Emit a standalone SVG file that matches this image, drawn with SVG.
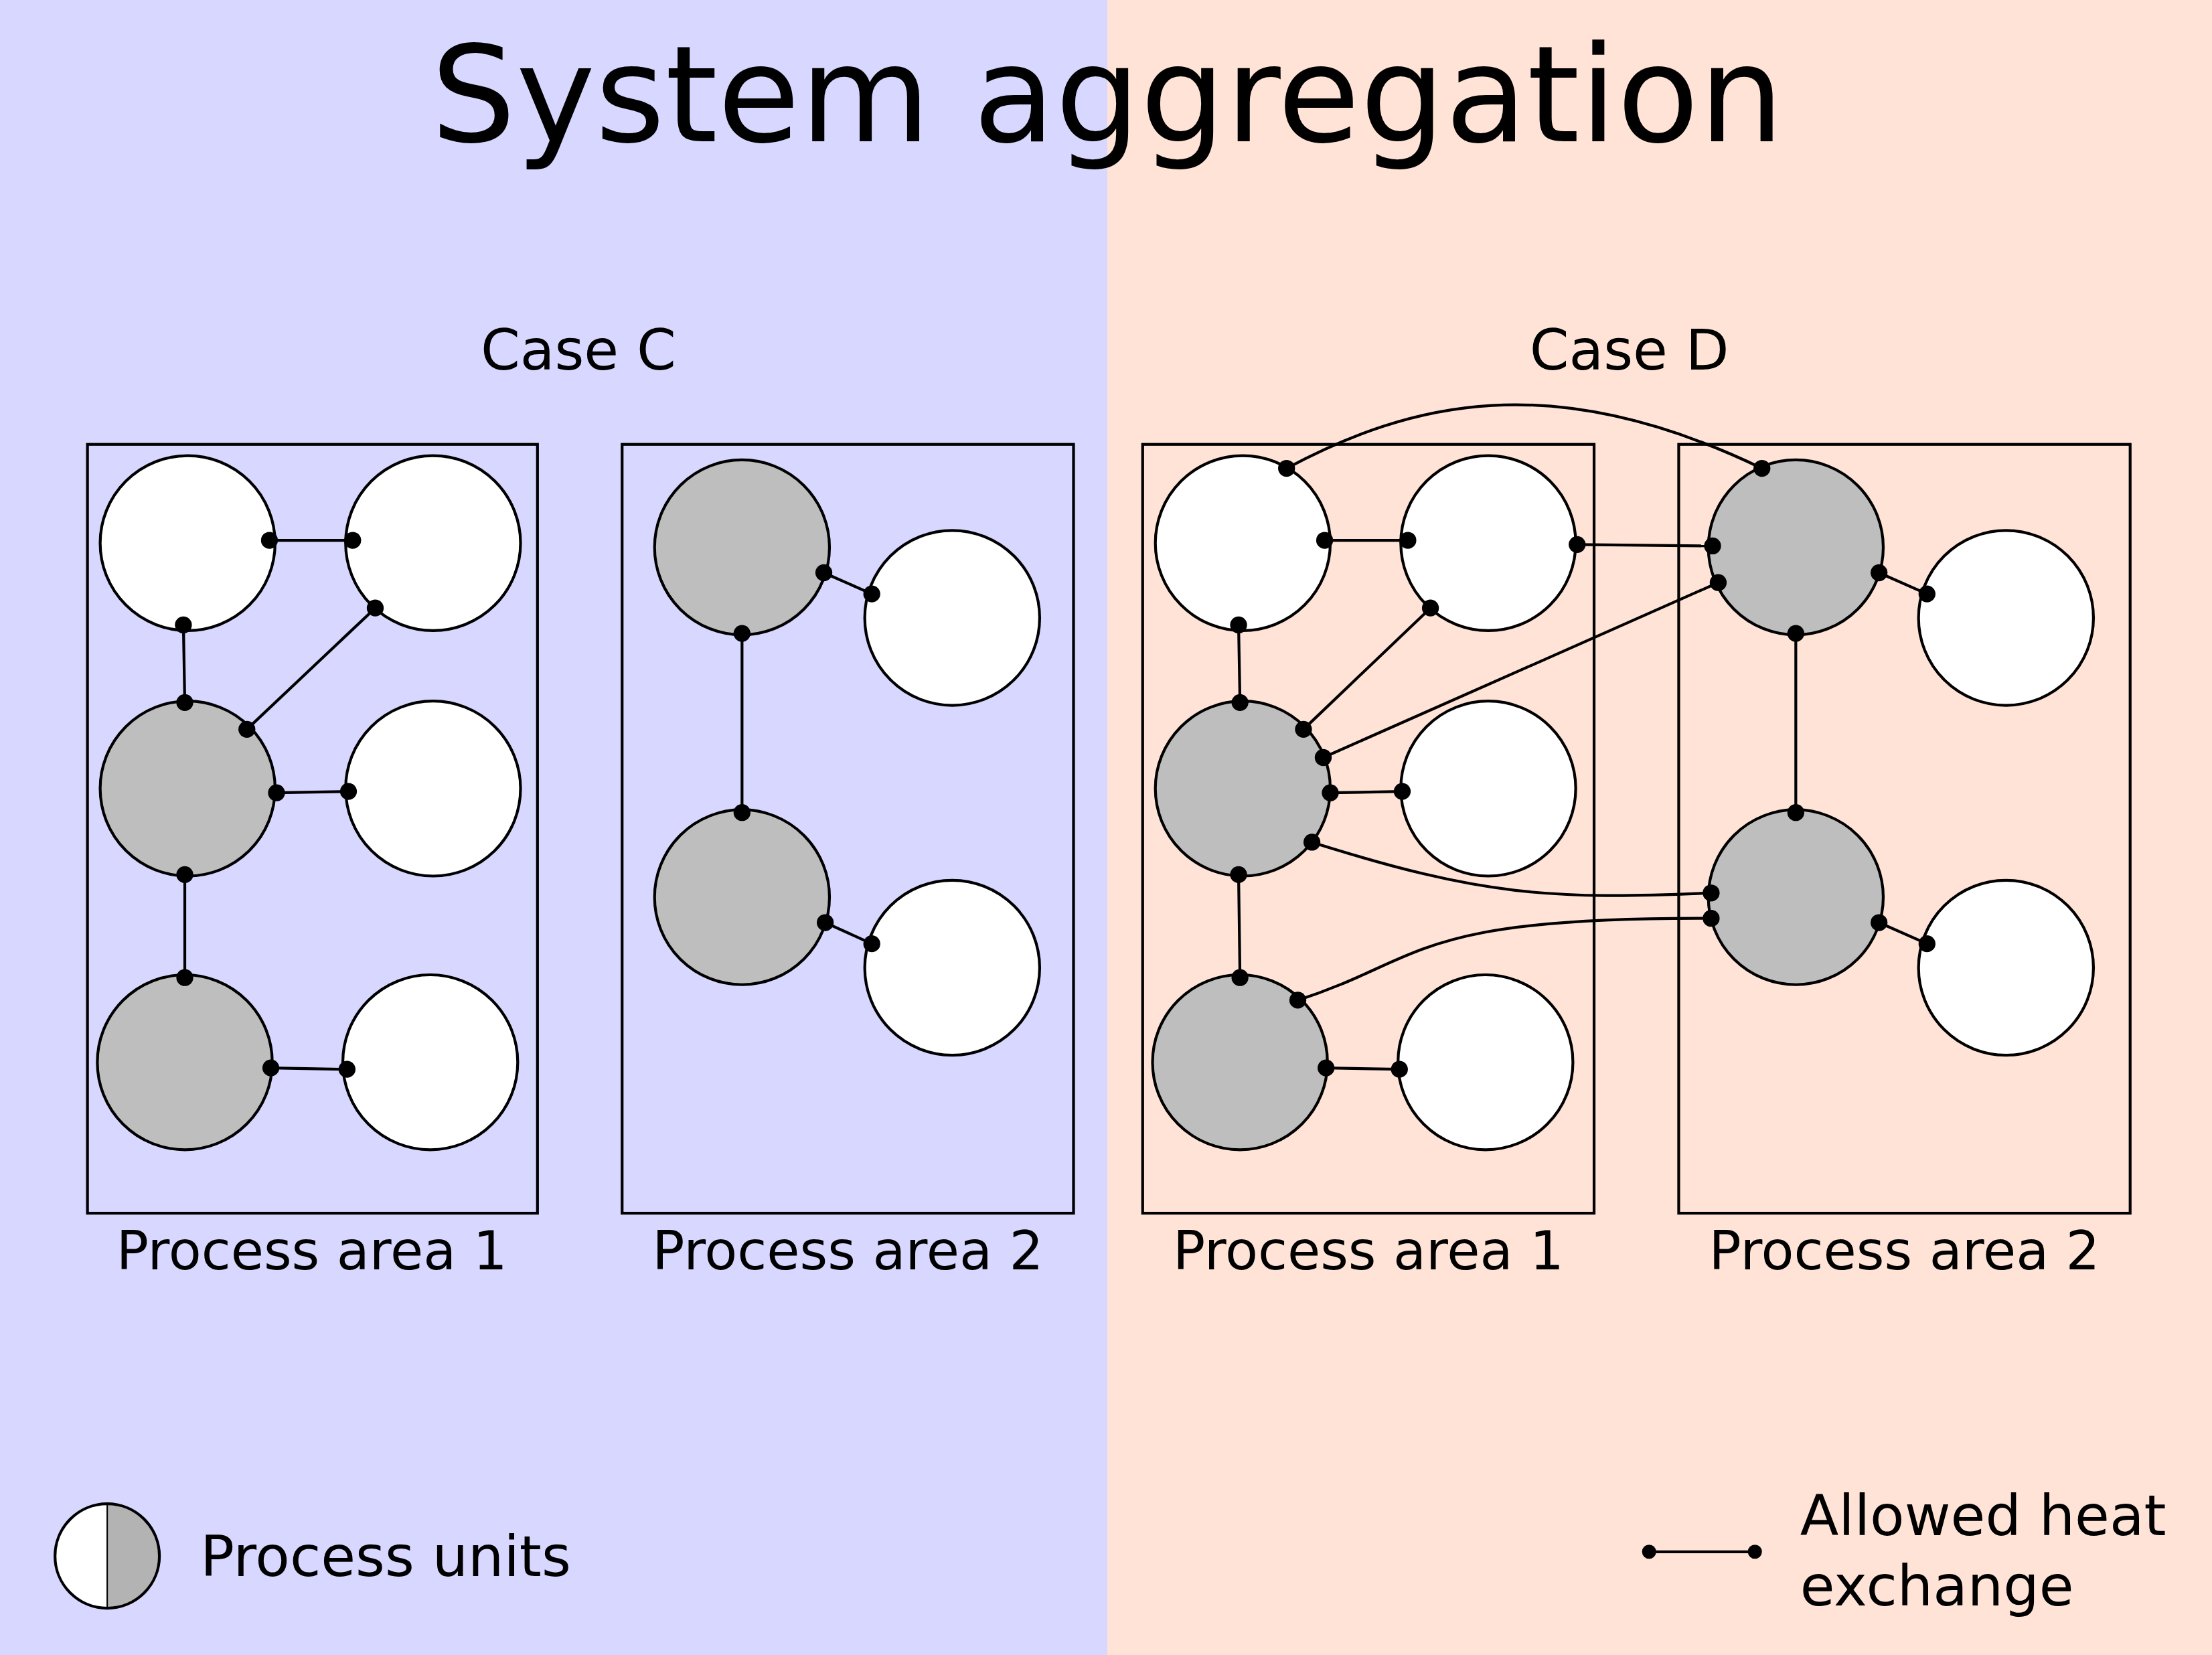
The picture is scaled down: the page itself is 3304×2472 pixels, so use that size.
<svg xmlns="http://www.w3.org/2000/svg" width="3304" height="2472" viewBox="0 0 3304 2472">
<style>
text{font-family:"DejaVu Sans",Verdana,sans-serif;fill:#000}
.lbl{font-size:38px;text-anchor:middle}
.box{fill:none;stroke:#000;stroke-width:2}
.w{fill:#fff;stroke:#000;stroke-width:2}
.g{fill:#bebebe;stroke:#000;stroke-width:2}
.c line,.c path{stroke:#000;stroke-width:2;fill:none}
.d{fill:#000}
</style>
<g transform="scale(2.1071)">
<rect x="0" y="0" width="785" height="1174" fill="#d7d7ff"/>
<rect x="785" y="0" width="784" height="1174" fill="#ffe3d7"/>
<text x="785" y="100" font-size="95" text-anchor="middle">System aggregation</text>
<text x="410" y="262" font-size="40" text-anchor="middle">Case C</text>
<text x="1155" y="262" font-size="40" text-anchor="middle">Case D</text>
<g id="areaC1"><rect class="box" x="62" y="315" width="319" height="545"/><text class="lbl" x="221" y="900">Process area 1</text></g>
<g id="areaC2"><rect class="box" x="441" y="315" width="320" height="545"/><text class="lbl" x="601" y="900">Process area 2</text></g>
<g id="areaD1"><rect class="box" x="810" y="315" width="320" height="545"/><text class="lbl" x="970" y="900">Process area 1</text></g>
<g id="areaD2"><rect class="box" x="1190" y="315" width="320" height="545"/><text class="lbl" x="1350" y="900">Process area 2</text></g>
<g id="units">
<circle class="w" cx="133" cy="385" r="62"/><circle class="w" cx="307" cy="385" r="62"/><circle class="g" cx="133" cy="559" r="62"/><circle class="w" cx="307" cy="559" r="62"/><circle class="g" cx="131" cy="753" r="62"/><circle class="w" cx="305" cy="753" r="62"/>
<circle class="g" cx="526" cy="388" r="62"/><circle class="w" cx="675" cy="438" r="62"/><circle class="g" cx="526" cy="636" r="62"/><circle class="w" cx="675" cy="686" r="62"/>
<circle class="w" cx="881" cy="385" r="62"/><circle class="w" cx="1055" cy="385" r="62"/><circle class="g" cx="881" cy="559" r="62"/><circle class="w" cx="1055" cy="559" r="62"/><circle class="g" cx="879" cy="753" r="62"/><circle class="w" cx="1053" cy="753" r="62"/>
<circle class="g" cx="1273" cy="388" r="62"/><circle class="w" cx="1422" cy="438" r="62"/><circle class="g" cx="1273" cy="636" r="62"/><circle class="w" cx="1422" cy="686" r="62"/>
</g>
<g id="connectors" class="c">
<line x1="191" y1="383" x2="250" y2="383"/><line x1="130" y1="443" x2="131" y2="498"/><line x1="266" y1="431" x2="175" y2="517"/><line x1="196" y1="562" x2="247" y2="561"/><line x1="131" y1="620" x2="131" y2="693"/><line x1="192" y1="757" x2="246" y2="758"/>
<line x1="584" y1="406" x2="618" y2="421"/><line x1="526" y1="449" x2="526" y2="576"/><line x1="585" y1="654" x2="618" y2="669"/>
<line x1="939" y1="383" x2="998" y2="383"/><line x1="878" y1="443" x2="879" y2="498"/><line x1="1014" y1="431" x2="924" y2="517"/><line x1="943" y1="562" x2="994" y2="561"/><line x1="878" y1="620" x2="879" y2="693"/><line x1="940" y1="757" x2="992" y2="758"/>
<line x1="1332" y1="406" x2="1366" y2="421"/><line x1="1273" y1="449" x2="1273" y2="576"/><line x1="1332" y1="654" x2="1366" y2="669"/>
<path d="M912 332 C1000 285 1100 260 1249 332"/>
<line x1="1118" y1="386" x2="1214" y2="387"/>
<line x1="1218" y1="413" x2="938" y2="537"/>
<path d="M930 597 C1050 635 1100 638 1213 633"/>
<path d="M920 709 C1010 680 1000 650 1213 651"/>
<g class="d">
<circle cx="191" cy="383" r="6"/><circle cx="250" cy="383" r="6"/><circle cx="130" cy="443" r="6"/><circle cx="131" cy="498" r="6"/><circle cx="266" cy="431" r="6"/><circle cx="175" cy="517" r="6"/><circle cx="196" cy="562" r="6"/><circle cx="247" cy="561" r="6"/><circle cx="131" cy="620" r="6"/><circle cx="131" cy="693" r="6"/><circle cx="192" cy="757" r="6"/><circle cx="246" cy="758" r="6"/>
<circle cx="584" cy="406" r="6"/><circle cx="618" cy="421" r="6"/><circle cx="526" cy="449" r="6"/><circle cx="526" cy="576" r="6"/><circle cx="585" cy="654" r="6"/><circle cx="618" cy="669" r="6"/>
<circle cx="939" cy="383" r="6"/><circle cx="998" cy="383" r="6"/><circle cx="878" cy="443" r="6"/><circle cx="879" cy="498" r="6"/><circle cx="1014" cy="431" r="6"/><circle cx="924" cy="517" r="6"/><circle cx="943" cy="562" r="6"/><circle cx="994" cy="561" r="6"/><circle cx="878" cy="620" r="6"/><circle cx="879" cy="693" r="6"/><circle cx="940" cy="757" r="6"/><circle cx="992" cy="758" r="6"/>
<circle cx="1332" cy="406" r="6"/><circle cx="1366" cy="421" r="6"/><circle cx="1273" cy="449" r="6"/><circle cx="1273" cy="576" r="6"/><circle cx="1332" cy="654" r="6"/><circle cx="1366" cy="669" r="6"/>
<circle cx="912" cy="332" r="6"/><circle cx="1249" cy="332" r="6"/><circle cx="1118" cy="386" r="6"/><circle cx="1214" cy="387" r="6"/><circle cx="1218" cy="413" r="6"/><circle cx="938" cy="537" r="6"/><circle cx="930" cy="597" r="6"/><circle cx="1213" cy="633" r="6"/><circle cx="920" cy="709" r="6"/><circle cx="1213" cy="651" r="6"/>
</g>
</g>
<g id="legend">
<path d="M76 1066 A37 37 0 0 1 76 1140 Z" fill="#b3b3b3"/>
<path d="M76 1066 A37 37 0 0 0 76 1140 Z" fill="#fff"/>
<circle cx="76" cy="1103" r="37" fill="none" stroke="#000" stroke-width="2"/>
<line x1="76" y1="1066" x2="76" y2="1140" stroke="#000" stroke-width="1"/>
<text x="142" y="1117" font-size="40">Process units</text>
<line x1="1169" y1="1100" x2="1244" y2="1100" stroke="#000" stroke-width="2"/>
<circle cx="1169" cy="1100" r="5"/><circle cx="1244" cy="1100" r="5"/>
<text x="1276" y="1088" font-size="40">Allowed heat</text>
<text x="1276" y="1138" font-size="40">exchange</text>
</g>
</g>
</svg>
